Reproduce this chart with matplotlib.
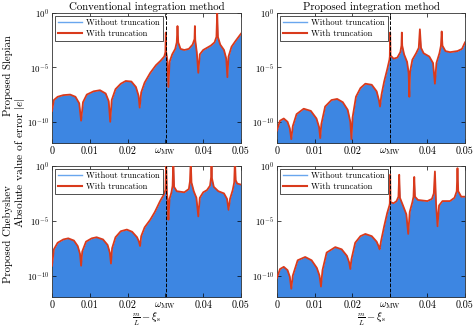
import numpy as np
import matplotlib
matplotlib.use("Agg")
import matplotlib.pyplot as plt
from matplotlib.lines import Line2D

plt.rcParams['font.family'] = 'serif'
plt.rcParams['font.serif'] = ['cmr10', 'DejaVu Serif']
plt.rcParams['mathtext.fontset'] = 'cm'
plt.rcParams['axes.unicode_minus'] = False

omega_mw = 0.0301

# ---- Slepian, conventional (x, log10 |e|) ----
tl_x = [0, 0.0005, 0.0015, 0.003, 0.0048, 0.0062, 0.0072, 0.0077, 0.0082, 0.0092, 0.011, 0.0127,
        0.0142, 0.015, 0.0154, 0.0158, 0.0168, 0.0182, 0.0195, 0.021, 0.0222, 0.0229, 0.0232,
        0.0236, 0.0245, 0.026, 0.0275, 0.0287, 0.0297, 0.0300, 0.0301, 0.0302, 0.0305, 0.0308,
        0.0311, 0.0318, 0.0326, 0.0330, 0.0332, 0.0334, 0.0340, 0.0350, 0.0362, 0.0372, 0.0377,
        0.0378, 0.0379, 0.0383, 0.0387, 0.0391, 0.040, 0.041, 0.042, 0.0430, 0.0435, 0.0437,
        0.0439, 0.0445, 0.0455, 0.0461, 0.0464, 0.0467, 0.0475, 0.0485, 0.050]
tl_log = [-9.0, -8.0, -7.7, -7.55, -7.5, -7.7, -8.3, -9.9, -8.2, -7.5, -7.2, -7.1,
          -7.4, -8.1, -10.0, -8.0, -7.0, -6.5, -6.25, -6.3, -6.8, -7.6, -8.7,
          -7.3, -6.4, -5.5, -4.8, -4.4, -4.0, -3.6, -1.8, -3.6, -4.3, -6.8,
          -4.5, -3.8, -3.3, -2.7, -1.2, -2.7, -3.3, -3.4, -3.3, -2.9, -2.4,
          -1.2, -2.5, -3.6, -5.5, -3.8, -3.4, -3.2, -3.0, -2.7, -2.2, 0.0,
          -2.2, -2.9, -3.4, -4.2, -5.9, -4.0, -3.1, -2.6, -1.9]

# ---- Slepian, proposed ----
tr_x = [0, 0.0008, 0.0018, 0.0028, 0.0034, 0.0038, 0.0042, 0.0052, 0.0071, 0.009, 0.0105, 0.0112,
        0.0115, 0.0118, 0.0128, 0.0145, 0.0160, 0.0175, 0.0188, 0.0195, 0.0198, 0.0201, 0.021,
        0.0222, 0.0235, 0.0252, 0.0265, 0.0271, 0.0274, 0.0278, 0.0285, 0.0293, 0.0299, 0.0300,
        0.0301, 0.0302, 0.031, 0.032, 0.0328, 0.0331, 0.0332, 0.0333, 0.0338, 0.0346, 0.0350,
        0.0352, 0.0354, 0.0360, 0.0370, 0.0377, 0.0380, 0.0383, 0.039, 0.0405, 0.0415, 0.0420,
        0.0424, 0.0432, 0.0436, 0.0438, 0.0440, 0.0448, 0.046, 0.048, 0.0492, 0.050]
tr_log = [-10.8, -9.9, -9.7, -10.0, -10.6, -11.6, -10.4, -9.3, -8.8, -9.0, -9.7, -10.5,
          -11.5, -10.2, -8.6, -8.0, -7.9, -8.2, -8.9, -10.0, -11.6, -9.6, -7.7,
          -6.9, -6.5, -6.6, -7.2, -8.0, -8.6, -7.5, -6.3, -5.2, -4.3, -4.0,
          -1.8, -3.9, -4.2, -4.1, -3.6, -3.0, -1.8, -3.0, -3.8, -4.5, -5.5,
          -7.7, -5.4, -4.3, -3.7, -3.2, -1.5, -3.2, -3.7, -4.0, -4.6, -6.5,
          -4.6, -3.7, -3.0, -1.7, -3.0, -3.5, -3.6, -3.5, -3.3, -2.7]

# ---- Chebyshev, conventional ----
bl_x = [0, 0.0005, 0.0015, 0.003, 0.0043, 0.0058, 0.0068, 0.0074, 0.0077, 0.0080, 0.0090, 0.0105,
        0.0118, 0.0135, 0.0147, 0.0153, 0.0156, 0.0159, 0.0168, 0.0182, 0.0198, 0.0212, 0.0225,
        0.0230, 0.0233, 0.0236, 0.0245, 0.026, 0.0272, 0.0286, 0.0296, 0.0300, 0.0302, 0.0304,
        0.0306, 0.0308, 0.0311, 0.0316, 0.0319, 0.0321, 0.0323, 0.033, 0.035, 0.0362, 0.0365,
        0.0367, 0.0369, 0.0375, 0.0382, 0.0387, 0.0391, 0.040, 0.041, 0.0418, 0.0421, 0.0422,
        0.0423, 0.0428, 0.044, 0.0455, 0.0463, 0.0467, 0.0471, 0.0478, 0.0482, 0.0484, 0.0486,
        0.049, 0.050]
bl_log = [-9.1, -7.6, -7.0, -6.7, -6.6, -6.8, -7.3, -8.0, -9.1, -7.8, -6.9, -6.6,
          -6.5, -6.7, -7.2, -7.9, -8.9, -7.5, -6.5, -5.95, -5.8, -6.0, -6.5,
          -6.9, -7.3, -6.4, -5.6, -4.9, -4.2, -3.2, -2.6, -2.2, 0.5, -2.4,
          -3.2, -4.9, -3.0, -2.4, -1.8, 0.5, -1.9, -2.3, -2.4, -2.1, -1.4,
          0.5, -1.5, -2.3, -2.9, -4.6, -2.9, -2.4, -2.2, -1.8, -1.0, 0.5,
          -1.1, -1.9, -2.3, -2.5, -3.0, -4.0, -3.0, -2.2, -1.5, 0.5, -1.3,
          -1.6, -1.7]

# ---- Chebyshev, proposed ----
br_x = [0, 0.0008, 0.0018, 0.0028, 0.0034, 0.0038, 0.0042, 0.0055, 0.0075, 0.0092, 0.0106, 0.0113,
        0.0117, 0.0121, 0.0132, 0.0155, 0.0172, 0.0186, 0.0192, 0.0195, 0.0198, 0.0208, 0.0222,
        0.0235, 0.0252, 0.0265, 0.0270, 0.0273, 0.0277, 0.0285, 0.0293, 0.0299, 0.0300, 0.0301,
        0.0302, 0.031, 0.0318, 0.0323, 0.0325, 0.0327, 0.0335, 0.0344, 0.0349, 0.0353, 0.0360,
        0.0363, 0.0365, 0.0367, 0.0375, 0.040, 0.0412, 0.0417, 0.0420, 0.0423, 0.0427, 0.0431,
        0.044, 0.046, 0.0472, 0.0478, 0.0480, 0.0482, 0.049, 0.050]
br_log = [-10.2, -9.4, -9.2, -9.5, -10.1, -11.2, -10.0, -8.6, -8.3, -8.6, -9.3, -10.0,
          -11.0, -9.5, -7.9, -7.4, -7.6, -8.2, -8.8, -9.4, -8.5, -7.0, -6.4,
          -6.2, -6.4, -6.9, -7.3, -7.6, -6.8, -5.5, -4.3, -3.6, -3.4, -0.8,
          -3.3, -3.4, -3.2, -2.8, -0.8, -2.9, -3.6, -4.4, -6.2, -4.2, -3.3,
          -2.8, -1.0, -2.8, -3.1, -3.2, -3.0, -2.5, -0.5, -3.4, -5.5, -3.6,
          -3.2, -3.2, -2.9, -2.3, -0.2, -2.3, -2.8, -2.8]

titles = ['Conventional integration method', 'Proposed integration method']
row_labels = ['Proposed Slepian', 'Proposed Chebyshev']
xtick_vals = [0, 0.01, 0.02, 0.03, 0.04, 0.05]
xtick_labels = ['0', '0.01', '0.02', r'$\omega_{\rm MW}$', '0.04', '0.05']
ytick_exps = [-10, -5, 0]

blue_fill = '#3d86e2'
blue_line = '#69a6ee'
red = '#d93a1c'

W, H = 474, 327
fig = plt.figure(figsize=(W / 100, H / 100), dpi=100)

boxes = [[(52, 13, 241, 143), (277, 13, 465, 143)],
         [(52, 166, 241, 297), (277, 166, 465, 297)]]
data = [[(tl_x, tl_log), (tr_x, tr_log)], [(bl_x, bl_log), (br_x, br_log)]]
ybot = 10 ** -11.95

for r in range(2):
    for c in range(2):
        l, t, rr, b = boxes[r][c]
        ax = fig.add_axes([l / W, 1 - b / H, (rr - l) / W, (b - t) / H])
        xs, lg = data[r][c]
        xs = np.array(xs)
        ys = 10.0 ** np.array(lg)
        ax.fill_between(xs, ybot / 10, ys, color=blue_fill, lw=0, zorder=1)
        ax.plot(xs, ys, color=red, lw=1.3, zorder=3)
        ax.axvline(omega_mw, color='black', ls='--', lw=0.7, zorder=4)
        ax.set_yscale('log')
        ax.set_xlim(0, 0.05)
        ax.set_ylim(ybot, 1)
        ax.set_xticks(xtick_vals)
        ax.set_xticklabels(xtick_labels)
        ax.set_yticks([10.0 ** e for e in ytick_exps])
        ax.set_yticklabels([r'$10^{%d}$' % e for e in ytick_exps])
        ax.minorticks_off()
        ax.tick_params(direction='in', top=True, right=True, length=3, width=0.5)
        ax.tick_params(axis='x', labelsize=7.3, pad=2.5)
        ax.tick_params(axis='y', labelsize=6.4, pad=2)
        for s in ax.spines.values():
            s.set_linewidth(0.6)
            s.set_color('#333333')
        if r == 0:
            ax.set_title(titles[c], fontsize=7.8, pad=2)
        if r == 1:
            ax.set_xlabel(r'$\frac{m}{L} - \xi_{\rm s}$', fontsize=7.5, labelpad=0)
        handles = [Line2D([0], [0], color=blue_line, lw=1.0),
                   Line2D([0], [0], color=red, lw=1.5)]
        leg = ax.legend(handles, ['Without truncation', 'With truncation'], loc='upper left',
                        fontsize=6.2, fancybox=False, framealpha=1, edgecolor='#333333',
                        borderpad=0.3, handlelength=2.8, handletextpad=0.5, labelspacing=0.25,
                        borderaxespad=0.4)
        leg.get_frame().set_linewidth(0.6)

fig.text(8 / W, 1 - 76 / H, row_labels[0], rotation=90, ha='center', va='center', fontsize=7.8)
fig.text(8 / W, 1 - 234 / H, row_labels[1], rotation=90, ha='center', va='center', fontsize=7.8)
fig.text(20 / W, 1 - 163 / H, r'Absolute value of error $|e|$', rotation=90,
         ha='center', va='center', fontsize=8.2)

fig.savefig('out.png', dpi=100)
